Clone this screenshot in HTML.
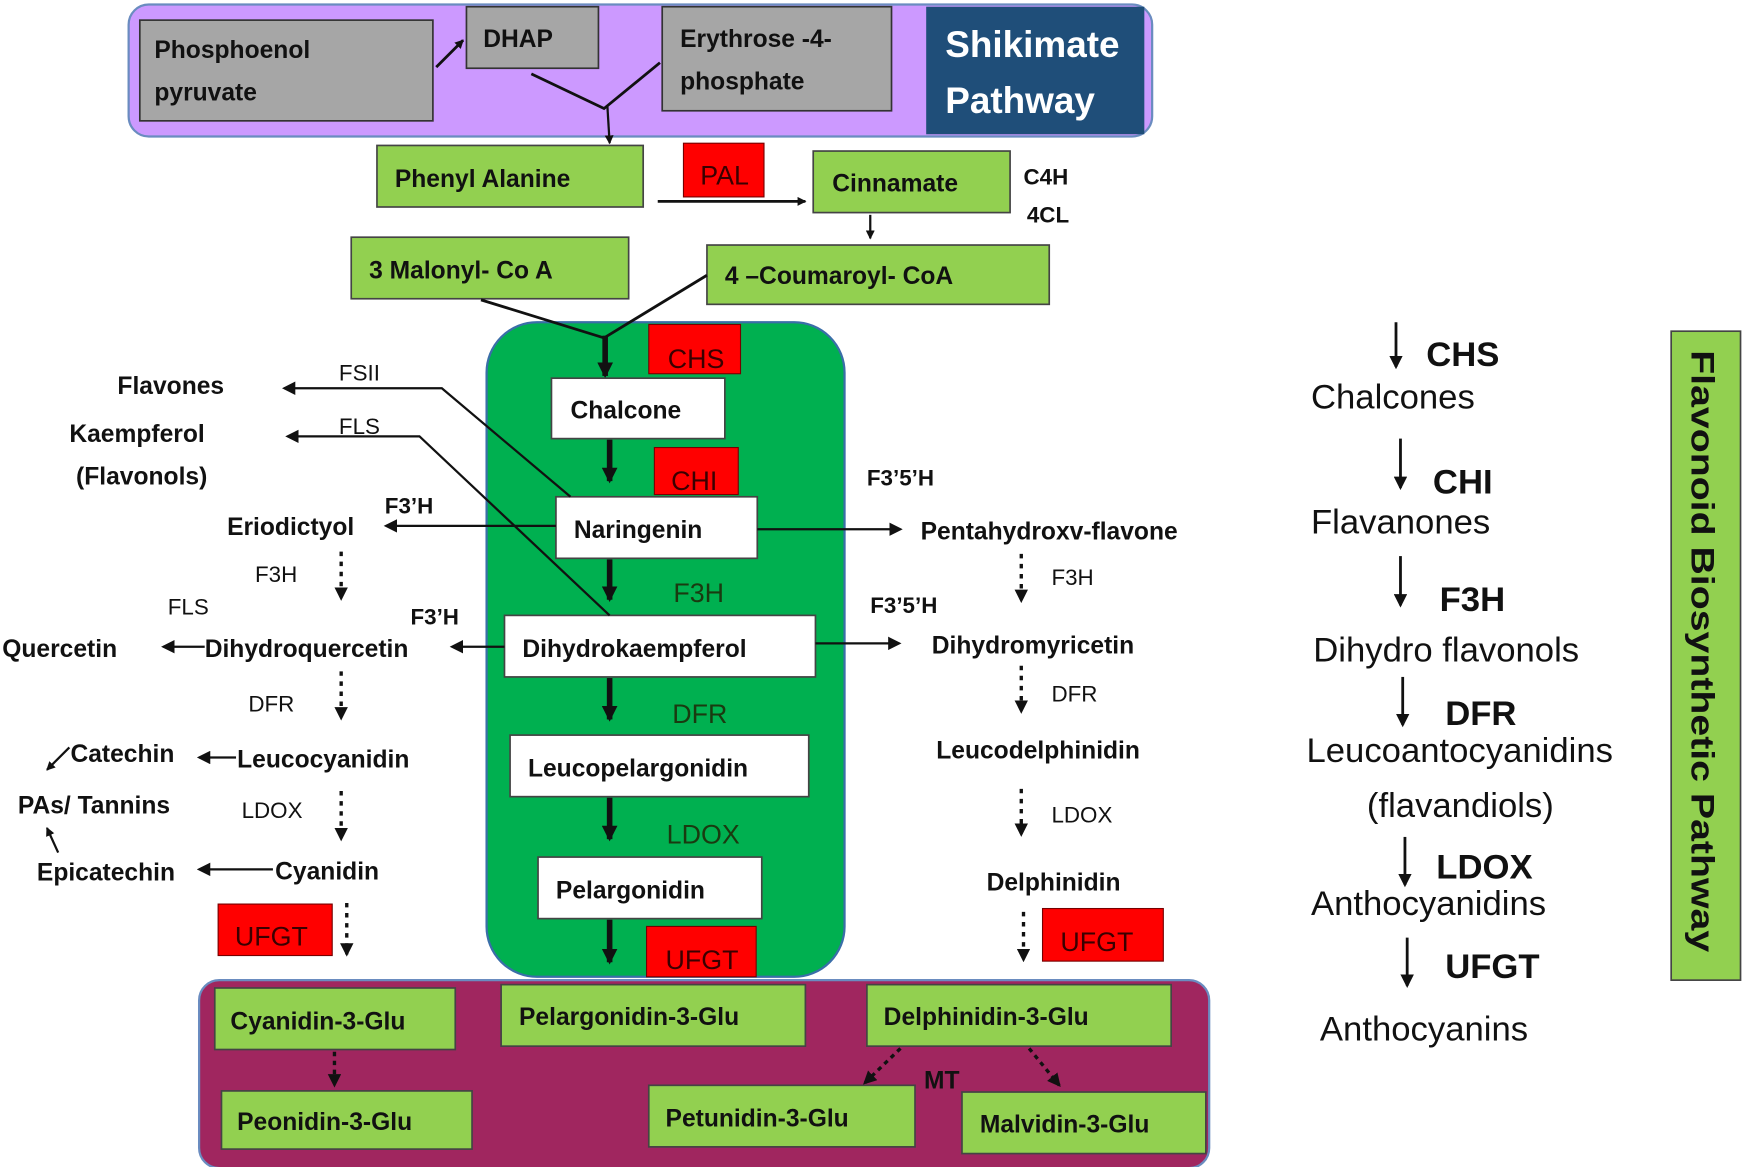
<!DOCTYPE html>
<html><head><meta charset="utf-8"><style>
html,body{margin:0;padding:0;background:#fff;width:1745px;height:1167px;overflow:hidden}
svg{display:block}
text{font-family:"Liberation Sans",sans-serif}
.b{font-weight:bold;font-size:22px;fill:#111}
.n{font-size:20px;fill:#111}
.r{font-size:24px;fill:#3a0000}
.g{fill:#92d050;stroke:#444;stroke-width:1.5}
.w{fill:#fff;stroke:#444;stroke-width:1.5}
.red{fill:#f00;stroke:#700;stroke-width:1}
.gr{fill:#a6a6a6;stroke:#333;stroke-width:1.5}
.L{font-size:31px;fill:#111}
.LB{font-size:31px;font-weight:bold;fill:#111}
</style></head><body>
<svg width="1745" height="1167" viewBox="0 0 1560 1043" preserveAspectRatio="none" xmlns="http://www.w3.org/2000/svg">
<defs>
<marker id="a" markerWidth="8" markerHeight="8" refX="7" refY="4" orient="auto" markerUnits="userSpaceOnUse"><path d="M0,0 L8,4 L0,8z" fill="#111"/></marker>
<marker id="A" markerWidth="14" markerHeight="14" refX="12" refY="7" orient="auto" markerUnits="userSpaceOnUse"><path d="M0,0 L14,7 L0,14z" fill="#111"/></marker>
<marker id="m" markerWidth="12" markerHeight="12" refX="10" refY="6" orient="auto" markerUnits="userSpaceOnUse"><path d="M0,0 L12,6 L0,12z" fill="#111"/></marker>
</defs>
<!-- Shikimate region -->
<rect x="115" y="4" width="915" height="118" rx="18" fill="#cc99ff" stroke="#6a8cc0" stroke-width="2"/>
<rect x="828" y="6" width="195" height="114" fill="#1f4e79"/>
<text x="845" y="51" font-size="33" font-weight="bold" fill="#fff">Shikimate</text>
<text x="845" y="101" font-size="33" font-weight="bold" fill="#fff">Pathway</text>
<rect class="gr" x="125" y="18" width="262" height="90"/>
<text class="b" x="138" y="52">Phosphoenol</text>
<text class="b" x="138" y="90">pyruvate</text>
<rect class="gr" x="417" y="6" width="118" height="55"/>
<text class="b" x="432" y="42">DHAP</text>
<rect class="gr" x="592" y="6" width="205" height="93"/>
<text class="b" x="608" y="42">Erythrose -4-</text>
<text class="b" x="608" y="80">phosphate</text>
<line x1="390" y1="60" x2="414" y2="36" stroke="#111" stroke-width="2.5" marker-end="url(#a)"/>
<polyline points="475,66 540,97 590,56" fill="none" stroke="#111" stroke-width="2.5"/>
<line x1="543" y1="95" x2="545" y2="128" stroke="#111" stroke-width="2" marker-end="url(#a)"/>
<!-- upper green -->
<rect class="g" x="337" y="130" width="238" height="55"/>
<text class="b" x="353" y="167">Phenyl Alanine</text>
<rect class="red" x="611" y="128" width="72" height="48"/>
<text class="r" x="626" y="165">PAL</text>
<line x1="588" y1="180" x2="720" y2="180" stroke="#111" stroke-width="2.5" marker-end="url(#a)"/>
<rect class="g" x="727" y="135" width="176" height="55"/>
<text class="b" x="744" y="171">Cinnamate</text>
<text class="n" x="915" y="165" font-weight="bold">C4H</text>
<text class="n" x="918" y="199" font-weight="bold">4CL</text>
<line x1="778" y1="192" x2="778" y2="213" stroke="#111" stroke-width="2" marker-end="url(#a)"/>
<rect class="g" x="314" y="212" width="248" height="55"/>
<text class="b" x="330" y="249">3 Malonyl- Co A</text>
<rect class="g" x="632" y="219" width="306" height="53"/>
<text class="b" x="648" y="254">4 –Coumaroyl- CoA</text>
<!-- center green -->
<rect x="435" y="288" width="320" height="585" rx="45" fill="#00b050" stroke="#3a6ea8" stroke-width="2"/>
<polyline points="430,268 540,302 632,246" fill="none" stroke="#111" stroke-width="2.5"/>
<line x1="541" y1="300" x2="541" y2="336" stroke="#111" stroke-width="5" marker-end="url(#A)"/>
<rect class="red" x="580" y="290" width="82" height="44"/>
<text class="r" x="597" y="329">CHS</text>
<rect class="w" x="493" y="338" width="155" height="54"/>
<text class="b" x="510" y="374">Chalcone</text>
<line x1="545" y1="393" x2="545" y2="430" stroke="#111" stroke-width="5" marker-end="url(#A)"/>
<rect class="red" x="585" y="400" width="75" height="42"/>
<text class="r" x="600" y="438">CHI</text>
<rect class="w" x="497" y="444" width="180" height="55"/>
<text class="b" x="513" y="481">Naringenin</text>
<line x1="545" y1="500" x2="545" y2="536" stroke="#111" stroke-width="5" marker-end="url(#A)"/>
<text class="r" x="602" y="538" style="fill:#1a3a10">F3H</text>
<rect class="w" x="451" y="550" width="278" height="55"/>
<text class="b" x="467" y="587">Dihydrokaempferol</text>
<line x1="545" y1="606" x2="545" y2="643" stroke="#111" stroke-width="5" marker-end="url(#A)"/>
<text class="r" x="601" y="646" style="fill:#1a3a10">DFR</text>
<rect class="w" x="456" y="657" width="267" height="55"/>
<text class="b" x="472" y="694">Leucopelargonidin</text>
<line x1="545" y1="713" x2="545" y2="750" stroke="#111" stroke-width="5" marker-end="url(#A)"/>
<text class="r" x="596" y="754" style="fill:#1a3a10">LDOX</text>
<rect class="w" x="481" y="766" width="200" height="55"/>
<text class="b" x="497" y="803">Pelargonidin</text>
<line x1="545" y1="822" x2="545" y2="860" stroke="#111" stroke-width="5" marker-end="url(#A)"/>
<rect class="red" x="578" y="828" width="98" height="45"/>
<text class="r" x="595" y="866">UFGT</text>
<!-- left side -->
<text class="b" x="105" y="352">Flavones</text>
<text class="n" x="303" y="340">FSII</text>
<polyline points="510,444 395,347 254,347" fill="none" stroke="#111" stroke-width="2" marker-end="url(#m)"/>
<text class="b" x="62" y="395">Kaempferol</text>
<text class="b" x="68" y="433">(Flavonols)</text>
<text class="n" x="303" y="388">FLS</text>
<polyline points="545,550 375,390 257,390" fill="none" stroke="#111" stroke-width="2" marker-end="url(#m)"/>
<text class="b" x="203" y="478">Eriodictyol</text>
<text class="n" x="344" y="459" font-weight="bold" font-size="18">F3’H</text>
<line x1="497" y1="470" x2="345" y2="470" stroke="#111" stroke-width="2" marker-end="url(#m)"/>
<text class="n" x="228" y="520">F3H</text>
<line x1="305" y1="493" x2="305" y2="535" stroke="#111" stroke-width="3" stroke-dasharray="4,5" marker-end="url(#m)"/>
<text class="n" x="150" y="549">FLS</text>
<text class="b" x="2" y="587">Quercetin</text>
<line x1="183" y1="578" x2="146" y2="578" stroke="#111" stroke-width="2" marker-end="url(#m)"/>
<text class="b" x="183" y="587">Dihydroquercetin</text>
<text class="n" x="367" y="558" font-weight="bold" font-size="18">F3’H</text>
<line x1="451" y1="578" x2="404" y2="578" stroke="#111" stroke-width="2" marker-end="url(#m)"/>
<text class="n" x="222" y="636">DFR</text>
<line x1="305" y1="600" x2="305" y2="642" stroke="#111" stroke-width="3" stroke-dasharray="4,5" marker-end="url(#m)"/>
<text class="b" x="63" y="681">Catechin</text>
<line x1="211" y1="677" x2="178" y2="677" stroke="#111" stroke-width="2" marker-end="url(#m)"/>
<line x1="62" y1="668" x2="42" y2="688" stroke="#111" stroke-width="2" marker-end="url(#a)"/>
<text class="b" x="212" y="686">Leucocyanidin</text>
<text class="b" x="16" y="727">PAs/ Tannins</text>
<text class="n" x="216" y="731">LDOX</text>
<line x1="305" y1="707" x2="305" y2="750" stroke="#111" stroke-width="3" stroke-dasharray="4,5" marker-end="url(#m)"/>
<line x1="52" y1="762" x2="42" y2="740" stroke="#111" stroke-width="2" marker-end="url(#a)"/>
<text class="b" x="33" y="787">Epicatechin</text>
<line x1="244" y1="777" x2="178" y2="777" stroke="#111" stroke-width="2" marker-end="url(#m)"/>
<text class="b" x="246" y="786">Cyanidin</text>
<rect class="red" x="195" y="808" width="102" height="46"/>
<text class="r" x="210" y="845">UFGT</text>
<line x1="310" y1="807" x2="310" y2="853" stroke="#111" stroke-width="3" stroke-dasharray="4,5" marker-end="url(#m)"/>
<!-- right side -->
<text class="n" x="775" y="434" font-weight="bold" font-size="18">F3’5’H</text>
<line x1="677" y1="473" x2="805" y2="473" stroke="#111" stroke-width="2" marker-end="url(#m)"/>
<text class="b" x="823" y="482">Pentahydroxv-flavone</text>
<line x1="913" y1="495" x2="913" y2="537" stroke="#111" stroke-width="3" stroke-dasharray="4,5" marker-end="url(#m)"/>
<text class="n" x="940" y="523">F3H</text>
<text class="n" x="778" y="548" font-weight="bold" font-size="18">F3’5’H</text>
<line x1="729" y1="575" x2="804" y2="575" stroke="#111" stroke-width="2" marker-end="url(#m)"/>
<text class="b" x="833" y="584">Dihydromyricetin</text>
<line x1="913" y1="595" x2="913" y2="636" stroke="#111" stroke-width="3" stroke-dasharray="4,5" marker-end="url(#m)"/>
<text class="n" x="940" y="627">DFR</text>
<text class="b" x="837" y="678">Leucodelphinidin</text>
<line x1="913" y1="705" x2="913" y2="746" stroke="#111" stroke-width="3" stroke-dasharray="4,5" marker-end="url(#m)"/>
<text class="n" x="940" y="735">LDOX</text>
<text class="b" x="882" y="796">Delphinidin</text>
<line x1="915" y1="815" x2="915" y2="858" stroke="#111" stroke-width="3" stroke-dasharray="4,5" marker-end="url(#m)"/>
<rect class="red" x="932" y="812" width="108" height="47"/>
<text class="r" x="948" y="850">UFGT</text>
<!-- bottom -->
<rect x="178" y="876" width="903" height="168" rx="18" fill="#a0265f" stroke="#6a8cc0" stroke-width="2"/>
<rect class="g" x="192" y="883" width="215" height="55"/>
<text class="b" x="206" y="920">Cyanidin-3-Glu</text>
<rect class="g" x="448" y="880" width="272" height="55"/>
<text class="b" x="464" y="916">Pelargonidin-3-Glu</text>
<rect class="g" x="775" y="880" width="272" height="55"/>
<text class="b" x="790" y="916">Delphinidin-3-Glu</text>
<rect class="g" x="198" y="975" width="224" height="52"/>
<text class="b" x="212" y="1010">Peonidin-3-Glu</text>
<rect class="g" x="580" y="970" width="238" height="55"/>
<text class="b" x="595" y="1007">Petunidin-3-Glu</text>
<rect class="g" x="860" y="976" width="218" height="55"/>
<text class="b" x="876" y="1012">Malvidin-3-Glu</text>
<line x1="299" y1="940" x2="299" y2="970" stroke="#111" stroke-width="3" stroke-dasharray="4,4" marker-end="url(#m)"/>
<line x1="805" y1="937" x2="773" y2="968" stroke="#111" stroke-width="3" stroke-dasharray="4,4" marker-end="url(#m)"/>
<line x1="920" y1="937" x2="947" y2="970" stroke="#111" stroke-width="3" stroke-dasharray="4,4" marker-end="url(#m)"/>
<text class="b" x="826" y="973" font-size="24">MT</text>
<!-- legend -->
<line x1="1248" y1="288" x2="1248" y2="328" stroke="#111" stroke-width="2.5" marker-end="url(#m)"/>
<text class="LB" x="1275" y="327">CHS</text>
<text class="L" x="1172" y="365">Chalcones</text>
<line x1="1252" y1="392" x2="1252" y2="436" stroke="#111" stroke-width="2.5" marker-end="url(#m)"/>
<text class="LB" x="1281" y="441">CHI</text>
<text class="L" x="1172" y="477">Flavanones</text>
<line x1="1252" y1="497" x2="1252" y2="541" stroke="#111" stroke-width="2.5" marker-end="url(#m)"/>
<text class="LB" x="1287" y="546">F3H</text>
<text class="L" x="1174" y="591">Dihydro flavonols</text>
<line x1="1254" y1="605" x2="1254" y2="648" stroke="#111" stroke-width="2.5" marker-end="url(#m)"/>
<text class="LB" x="1292" y="648">DFR</text>
<text class="L" x="1168" y="681">Leucoantocyanidins</text>
<text class="L" x="1222" y="730">(flavandiols)</text>
<line x1="1256" y1="748" x2="1256" y2="791" stroke="#111" stroke-width="2.5" marker-end="url(#m)"/>
<text class="LB" x="1284" y="785">LDOX</text>
<text class="L" x="1172" y="818">Anthocyanidins</text>
<line x1="1258" y1="838" x2="1258" y2="881" stroke="#111" stroke-width="2.5" marker-end="url(#m)"/>
<text class="LB" x="1292" y="874">UFGT</text>
<text class="L" x="1180" y="930">Anthocyanins</text>
<rect x="1494" y="296" width="62" height="580" fill="#92d050" stroke="#444" stroke-width="1.5"/>
<text x="1512" y="313" font-size="29" font-weight="bold" fill="#111" transform="rotate(90 1512 313)" textLength="538" lengthAdjust="spacingAndGlyphs">Flavonoid Biosynthetic Pathway</text>
</svg>
</body></html>
